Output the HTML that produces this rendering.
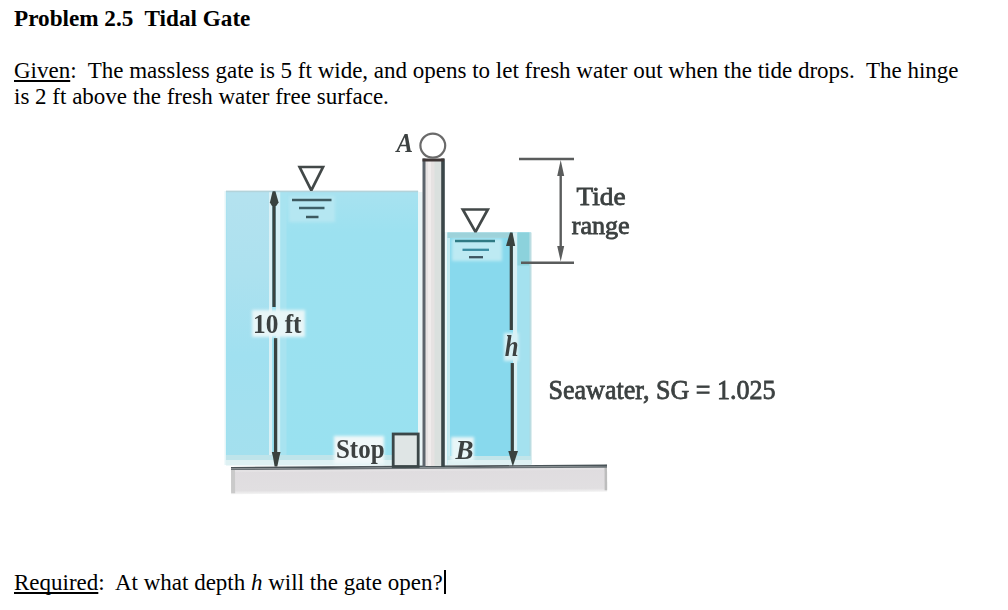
<!DOCTYPE html>
<html><head><meta charset="utf-8">
<style>
html,body{margin:0;padding:0;background:#fff;}
body{width:1008px;height:610px;position:relative;overflow:hidden;font-family:"Liberation Serif",serif;color:#000;}
.t{position:absolute;left:14px;font-size:23px;line-height:26px;white-space:pre;}
.b{font-weight:bold;}
.u{text-decoration:underline;text-decoration-thickness:1.5px;text-underline-offset:2px;text-decoration-skip-ink:none;}
svg{position:absolute;left:0;top:0;filter:blur(0.45px);}
.cur{position:absolute;left:444px;top:570px;width:2px;height:24px;background:#000;}
</style></head><body>
<div class="t b" style="top:5px;font-size:23.2px">Problem 2.5  Tidal Gate</div>
<div class="t" style="top:58px"><span class="u">Given</span>:  The massless gate is 5 ft wide, and opens to let fresh water out when the tide drops.  The hinge</div>
<div class="t" style="top:83.5px">is 2 ft above the fresh water free surface.</div>
<div class="t" style="top:570px"><span class="u">Required</span>:  At what depth <i>h</i> will the gate open?</div>
<div class="cur"></div>
<svg width="1008" height="610" viewBox="0 0 1008 610">
<!-- left water -->
<defs><filter id="bl" x="-20%" y="-20%" width="140%" height="140%"><feGaussianBlur stdDeviation="1.6"/></filter><linearGradient id="gg" x1="0" y1="0" x2="0" y2="1"><stop offset="0" stop-color="#dfdcdf"/><stop offset="0.86" stop-color="#e1dfe1"/><stop offset="1" stop-color="#f4f4f4"/></linearGradient><linearGradient id="pg" x1="0" y1="0" x2="0" y2="1"><stop offset="0" stop-color="#b4e2ef"/><stop offset="0.3" stop-color="#ace1ef"/><stop offset="0.6" stop-color="#a0e0f0"/><stop offset="1" stop-color="#a4e0ee"/></linearGradient><linearGradient id="lw" gradientUnits="userSpaceOnUse" x1="0" y1="191" x2="0" y2="464"><stop offset="0" stop-color="#a8e2f0"/><stop offset="0.15" stop-color="#9ce1f0"/><stop offset="1" stop-color="#99e1f0"/></linearGradient></defs>

<rect x="224.5" y="191" width="194" height="274" fill="#e6f5f8"/>
<rect x="226" y="191.5" width="192" height="272.5" fill="url(#lw)"/>
<rect x="226.5" y="192" width="42.5" height="272" fill="url(#pg)"/>
<rect x="269" y="192" width="3" height="272" fill="#d9f0f5"/>
<rect x="276" y="192" width="4.5" height="272" fill="#d3eff5"/>
<rect x="280.5" y="192" width="6" height="272" fill="#a8e3f0"/>
<rect x="226" y="190.6" width="192" height="1.6" fill="#b3d3da"/>
<rect x="226" y="455" width="192" height="5" fill="#bfe4ea"/>
<rect x="226" y="460" width="192" height="5.5" fill="#def1f3"/>
<!-- gap between water and gate -->
<rect x="418" y="192" width="4.5" height="274" fill="#e9f5f7"/>
<!-- right water -->
<rect x="444" y="232" width="6" height="234" fill="#eaf6f9"/>
<rect x="447.5" y="232.5" width="83.5" height="232" fill="#88d9ed"/>
<rect x="447.5" y="232.5" width="2.5" height="232" fill="#c4eaf2"/>
<rect x="447.5" y="232.5" width="65" height="5.5" fill="#9dd2da"/>
<rect x="513" y="232.5" width="4.5" height="232" fill="#d8f0f4"/>
<rect x="517.5" y="232.5" width="12" height="232" fill="#a4e1ef"/>
<rect x="517.5" y="232.5" width="12" height="33" fill="#8cd2dc"/>
<rect x="529.5" y="232.5" width="2" height="232" fill="#bcdde2"/>
<rect x="447.5" y="456" width="83.5" height="4" fill="#c2e5ea"/>
<rect x="447.5" y="460" width="83.5" height="5" fill="#dff1f3"/>
<rect x="452" y="239" width="50" height="22" fill="#bdeaf3" filter="url(#bl)"/>
<rect x="289" y="196" width="46" height="26" fill="#b5e7f2" filter="url(#bl)"/>
<!-- ground -->
<g transform="rotate(-0.37 419 467)">
<rect x="231" y="468" width="376" height="25" fill="url(#gg)"/>
<rect x="231" y="468.5" width="376" height="2.5" fill="#e4e2e4"/>
<rect x="604.5" y="466" width="2.5" height="25.5" fill="#bdbdbd"/>
<rect x="231" y="468" width="4" height="24" fill="#cacaca"/>
<rect x="231" y="465.7" width="376" height="1.6" fill="#4a5458"/>
<rect x="231" y="467.3" width="376" height="1.6" fill="#6a7276"/>
</g>
<!-- gate -->
<rect x="424" y="160" width="18" height="306" fill="#e6e2e2"/>
<rect x="428" y="160" width="3" height="306" fill="#f0ecec"/>
<rect x="434.5" y="160" width="6.5" height="306" fill="#dae0de"/>
<line x1="424" y1="158.5" x2="424" y2="467" stroke="#5c646c" stroke-width="3"/>
<line x1="443" y1="158.5" x2="443" y2="467" stroke="#3a4649" stroke-width="3.6"/>
<line x1="422.5" y1="160" x2="444" y2="160" stroke="#3e3636" stroke-width="3"/>
<ellipse cx="432.8" cy="145.6" rx="12.4" ry="12" fill="#fff" stroke="#6a6a6a" stroke-width="2.2"/>
<!-- stop -->
<rect x="393.2" y="434" width="25" height="32.5" fill="#dfe5e5" stroke="#3b4648" stroke-width="2.8"/>
<!-- triangles -->
<path d="M299.6,167 L323,167 L311.3,190.3 Z" fill="none" stroke="#424848" stroke-width="2.7" stroke-linejoin="miter" stroke-miterlimit="2"/>
<path d="M292,200 H331.5" stroke="#3d5a60" stroke-width="2.5"/>
<path d="M299,208 H324.5" stroke="#3d6068" stroke-width="2.5"/>
<path d="M306,217 H318.5" stroke="#3d5a60" stroke-width="2.5"/>
<path d="M462.8,209.5 L487.8,209.5 L475.5,231.8 Z" fill="none" stroke="#424848" stroke-width="2.7" stroke-linejoin="miter" stroke-miterlimit="2"/>
<path d="M455,241 H495" stroke="#2f7a84" stroke-width="2.3"/>
<path d="M462.5,249.8 H489" stroke="#3a8ca0" stroke-width="2.3"/>
<path d="M469,257.2 H483" stroke="#3d5560" stroke-width="2.3"/>
<!-- 10ft arrow -->
<path d="M274,204 V307 M275.6,338 V453" stroke="#39423f" stroke-width="3.3"/>
<path d="M272.6,191.3 H275.4 L278.6,202.5 L276.2,206 H272 L269.9,202.5 Z" fill="#39423f"/>
<path d="M271.8,452 H280.6 L279.3,457 L277.3,466.5 H274.6 L273,457 Z" fill="#39423f"/>
<!-- h arrow -->
<path d="M511.3,245 V330 M512.3,363 V452" stroke="#39423f" stroke-width="3.2"/>
<path d="M510,232.4 H512.5 L515.2,246 H506 Z" fill="#39423f"/>
<path d="M512.8,466.5 L508.3,451 L518,451 Z" fill="#39423f"/>
<!-- tide range -->
<path d="M519,159 H574 M521,262.8 H574" stroke="#5a5c5c" stroke-width="2.6"/>
<path d="M560.7,172 V249" stroke="#5a5c5c" stroke-width="2.4"/>
<path d="M560.7,160 L557.2,176 L564.2,176 Z M560.7,261.5 L557.2,246 L564.2,246 Z" fill="#5a5c5c"/>
<!-- label backgrounds -->
<g filter="url(#bl)">
<rect x="252" y="310" width="53" height="27" fill="#e8f6f8"/>
<rect x="334" y="436" width="50" height="28" fill="#f0f8f9"/>
<rect x="451" y="437" width="23" height="24" fill="#e8f6f8"/>
<rect x="504" y="333" width="14.5" height="28" fill="#d8f1f6"/>
</g>
<!-- labels -->
<g font-family="Liberation Serif" fill="#3c4141" stroke="#3c4141" stroke-width="0.5">
<text x="396.5" y="152" font-size="26.5" textLength="16.5" lengthAdjust="spacingAndGlyphs" font-style="italic" font-weight="bold" stroke-width="0">A</text>
<text x="576.5" y="204.5" font-size="26" textLength="49" stroke-width="0.8" lengthAdjust="spacingAndGlyphs">Tide</text>
<text x="571.7" y="233.8" font-size="25" textLength="58" stroke-width="0.8" lengthAdjust="spacingAndGlyphs">range</text>
<text x="253" y="333.4" font-size="27" font-weight="bold" stroke-width="0" textLength="48.5" lengthAdjust="spacingAndGlyphs">10 ft</text>
<text x="504.8" y="356" font-size="28.5" font-style="italic" font-weight="bold" stroke-width="0" textLength="13.8" lengthAdjust="spacingAndGlyphs">h</text>
<text x="336" y="458" font-size="27.5" font-weight="bold" stroke-width="0" textLength="48.5" lengthAdjust="spacingAndGlyphs">Stop</text>
<text x="455.5" y="459.4" font-size="27" font-style="italic" font-weight="bold" stroke-width="0">B</text>
<text x="548.5" y="399" font-size="28" textLength="227" stroke-width="0.8" lengthAdjust="spacingAndGlyphs">Seawater, SG = 1.025</text>
</g>
</svg>
</body></html>
